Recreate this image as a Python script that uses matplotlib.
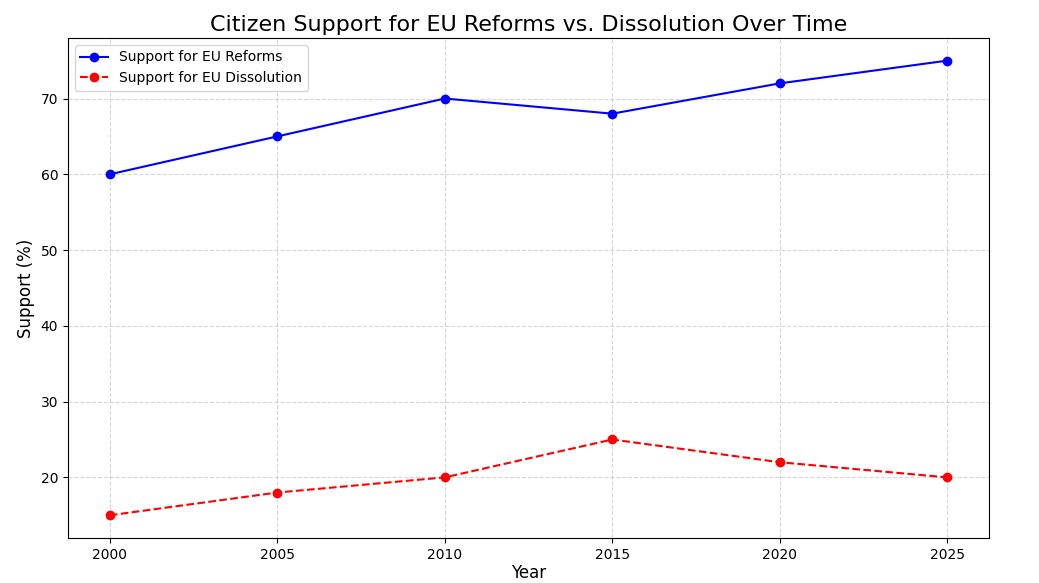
import matplotlib
matplotlib.use('Agg')
import matplotlib.pyplot as plt

years = [2000, 2005, 2010, 2015, 2020, 2025]
reforms = [60, 65, 70, 68, 72, 75]
dissolution = [15, 18, 20, 25, 22, 20]

fig = plt.figure(figsize=(10.39, 5.83), dpi=100)
fig.subplots_adjust(left=0.0654, right=0.952, top=0.935, bottom=0.0772)
ax = fig.add_subplot(111)

ax.plot(years, reforms, 'b-', marker='o', label='Support for EU Reforms')
ax.plot(years, dissolution, 'r--', marker='o', label='Support for EU Dissolution')

ax.set_title('Citizen Support for EU Reforms vs. Dissolution Over Time', fontsize=16, pad=5)
ax.set_xlabel('Year', fontsize=12, labelpad=2)
ax.set_ylabel('Support (%)', fontsize=12)
ax.grid(True, linestyle='--', alpha=0.5)
ax.legend(loc='upper left')

fig.savefig('out.png')
